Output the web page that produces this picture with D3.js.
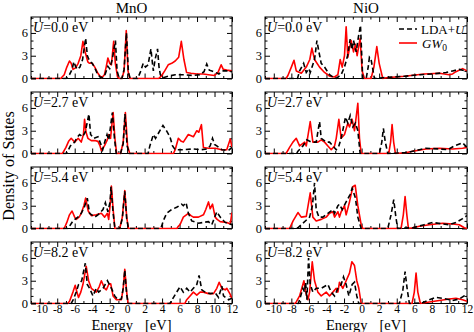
<!DOCTYPE html>
<html><head><meta charset="utf-8">
<script src="https://cdn.jsdelivr.net/npm/d3@7"></script>
<style>
html,body{margin:0;padding:0;background:#fff;}
svg{display:block;font-family:"Liberation Serif","Times New Roman",serif;}
</style></head>
<body><svg id="c" width="474" height="332"></svg>
<script>
const materials = ["MnO", "NiO"];
const uValues = ["0.0", "2.7", "5.4", "8.2"];
const energyTicks = [-10, -8, -6, -4, -2, 0, 2, 4, 6, 8, 10, 12];
const energyMinor = [-11, -9, -7, -5, -3, -1, 1, 3, 5, 7, 9, 11];
const dosTicks = [0, 3, 6];
const dosMinor = [1, 2, 4, 5, 7, 8];
const seriesNames = ["LDA+U", "GW0"];

// MnO
const mno_gw_00 = [[-11,0],[-7.6,0],[-7.2,0.5],[-6.9,1.5],[-6.6,2.3],[-6.4,2.0],[-6.2,1.2],[-5.9,1.4],[-5.6,2.0],[-5.3,3.0],[-5.06,4.9],[-4.8,3.5],[-4.5,2.2],[-4.3,2.0],[-4.0,2.0],[-3.7,1.5],[-3.4,0.8],[-3.1,0.3],[-2.9,0.1],[-2.6,0.5],[-2.4,1.5],[-2.2,2.7],[-2.0,2.0],[-1.8,1.8],[-1.54,4.9],[-1.35,2.0],[-1.1,0.2],[-0.9,0],[-0.6,0],[-0.35,1.0],[-0.1,6.3],[0.1,1.0],[0.3,0],[3.6,0],[3.9,0.3],[4.3,1.0],[4.7,1.8],[5.1,2.0],[5.5,2.3],[5.9,2.8],[6.2,4.9],[6.5,2.5],[6.8,0.8],[7.3,0.7],[8.0,0.6],[8.7,0.6],[9.3,0.5],[10.0,0.4],[10.4,0.8],[10.76,1.8],[11.0,1.2],[11.4,1.1],[12,1.0]];
const mno_lda_00 = [[-11,0],[-7.0,0],[-6.6,0.5],[-6.3,1.2],[-6.1,2.2],[-5.9,1.6],[-5.7,1.2],[-5.4,1.5],[-5.1,2.5],[-4.75,5.3],[-4.55,3.0],[-4.3,2.3],[-4.0,2.0],[-3.7,1.4],[-3.4,0.6],[-3.1,0.2],[-2.8,0.1],[-2.5,0.6],[-2.2,1.6],[-2.0,1.3],[-1.7,2.5],[-1.34,5.0],[-1.15,1.0],[-0.9,0],[-0.6,0],[-0.35,1.2],[-0.08,6.0],[0.15,0.8],[0.35,0],[1.2,0],[1.5,0.8],[1.84,2.0],[2.1,1.5],[2.4,1.8],[2.72,3.9],[2.9,2.0],[3.0,1.0],[3.2,2.5],[3.48,3.9],[3.65,1.5],[3.8,0.5],[4.1,0.1],[4.7,0.3],[5.5,0.5],[6.5,0.5],[7.5,0.4],[8.3,0.5],[8.8,0.9],[9.11,1.9],[9.4,1.1],[9.7,1.0],[10.1,0.8],[10.5,0.6],[10.9,1.0],[11.5,1.0],[12,0.9]];
const mno_gw_27 = [[-11,0],[-7.4,0],[-7.0,0.8],[-6.7,1.6],[-6.4,2.0],[-6.0,1.5],[-5.6,2.0],[-5.25,1.5],[-5.0,2.5],[-4.87,4.5],[-4.7,2.8],[-4.49,2.0],[-4.1,1.7],[-3.7,1.7],[-3.34,1.6],[-3.1,1.0],[-2.95,0.4],[-2.6,1.0],[-2.27,1.8],[-2.1,2.5],[-1.9,2.0],[-1.6,5.4],[-1.4,2.0],[-1.2,0],[-0.75,0],[-0.45,1.5],[-0.2,5.4],[0.05,1.0],[0.3,0],[5.3,0],[5.5,0.5],[5.86,2.0],[6.2,1.6],[6.43,1.5],[7.0,2.5],[7.58,2.2],[7.97,3.0],[8.2,2.8],[8.5,3.8],[8.73,0.8],[9.3,0.7],[10.1,0.7],[10.8,0.5],[11.4,0.5],[11.8,1.9],[12,0.8]];
const mno_lda_27 = [[-11,0],[-7.0,0],[-6.8,0.3],[-6.5,1.0],[-6.0,1.5],[-5.8,2.0],[-5.44,2.5],[-5.1,2.2],[-4.8,2.8],[-4.37,5.2],[-4.18,2.5],[-3.8,2.0],[-3.34,2.2],[-3.0,1.2],[-2.8,0.5],[-2.57,1.5],[-2.3,2.5],[-2.1,1.8],[-1.69,5.4],[-1.45,2.0],[-1.25,0],[-0.75,0],[-0.45,1.3],[-0.25,5.2],[0.0,1.0],[0.25,0],[2.4,0],[2.6,1.0],[3.0,2.5],[3.25,2.0],[3.75,3.0],[4.1,3.7],[4.5,3.0],[4.9,2.2],[5.2,1.0],[5.5,0.5],[6.5,0.5],[7.5,0.6],[8.5,0.5],[9.2,0.6],[9.5,1.0],[9.77,2.0],[10.0,1.2],[10.26,1.0],[10.84,0.5],[11.6,0.4],[12,0.8]];
const mno_gw_54 = [[-11,0],[-7.2,0],[-6.9,0.8],[-6.6,1.8],[-6.3,2.3],[-6.0,1.5],[-5.83,1.2],[-5.5,1.5],[-5.25,2.0],[-4.95,3.0],[-4.75,4.0],[-4.45,2.3],[-4.1,1.7],[-3.53,1.8],[-2.95,2.0],[-2.57,1.5],[-2.26,2.0],[-2.11,1.2],[-1.95,3.0],[-1.8,5.6],[-1.6,2.5],[-1.4,0],[-0.85,0],[-0.55,1.5],[-0.27,5.0],[-0.05,1.5],[0.15,0],[5.7,0],[5.86,0.3],[6.05,0.5],[6.43,1.5],[7.01,2.0],[7.3,1.7],[7.58,1.5],[8.16,1.5],[8.73,1.8],[9.0,2.5],[9.31,3.5],[9.5,2.6],[9.77,3.2],[10.07,1.5],[10.3,1.2],[10.65,0.9],[11.41,0.8],[11.8,0.6],[12,2.1]];
const mno_lda_54 = [[-11,0],[-6.8,0],[-6.59,0.3],[-6.2,1.0],[-5.64,1.5],[-5.25,2.0],[-4.9,2.8],[-4.56,4.0],[-4.3,2.0],[-3.72,1.5],[-3.34,1.8],[-2.76,2.5],[-2.49,3.4],[-2.2,2.2],[-1.95,3.5],[-1.85,5.5],[-1.6,2.0],[-1.4,0],[-0.85,0],[-0.55,1.3],[-0.27,4.9],[-0.05,1.3],[0.15,0],[3.8,0],[3.95,0.3],[4.13,1.0],[4.52,2.0],[5.09,2.5],[5.67,2.8],[6.24,3.2],[6.43,3.0],[6.74,3.4],[7.01,2.0],[7.39,1.0],[8.16,0.7],[9.31,0.9],[9.69,0.5],[10.26,2.2],[10.65,1.5],[11.22,0.8],[12,0.5]];
const mno_gw_82 = [[-11,0],[-6.8,0],[-6.59,0.3],[-6.2,1.5],[-5.94,2.4],[-5.75,1.5],[-5.56,0.8],[-5.3,1.5],[-5.06,2.5],[-4.68,4.9],[-4.41,3.0],[-4.1,2.0],[-3.53,1.5],[-3.2,2.2],[-2.95,3.0],[-2.57,2.0],[-2.38,1.8],[-2.11,2.5],[-1.88,2.6],[-1.61,1.0],[-1.23,0.5],[-0.66,0.5],[-0.45,2.0],[-0.27,4.5],[-0.05,1.5],[0.11,0],[6.6,0],[6.82,0.5],[7.2,1.0],[7.58,1.5],[7.97,1.1],[8.35,1.5],[8.73,1.5],[9.31,1.3],[9.88,1.3],[10.26,2.0],[10.53,2.8],[10.84,2.0],[11.22,1.8],[11.41,2.0],[11.8,1.2],[12,0.6]];
const mno_lda_82 = [[-11,0],[-6.4,0],[-6.21,0.4],[-5.83,1.5],[-5.56,2.5],[-5.2,3.0],[-4.79,5.3],[-4.56,2.5],[-4.3,2.0],[-3.91,1.0],[-3.53,2.0],[-3.26,1.5],[-2.76,2.0],[-2.26,3.0],[-1.8,2.0],[-1.42,1.0],[-1.04,0.5],[-0.66,0.6],[-0.45,2.0],[-0.27,4.4],[-0.05,1.2],[0.11,0],[4.9,0],[5.09,0.4],[5.67,1.5],[6.05,2.2],[6.43,1.5],[6.82,2.0],[7.2,1.5],[7.58,2.0],[7.97,2.5],[8.23,3.7],[8.54,1.8],[8.92,1.5],[9.5,1.3],[10.07,1.4],[10.46,0.8],[10.84,2.3],[11.03,1.0],[11.61,0.5],[12,0.7]];

// NiO
const nio_gw_00 = [[-11,0],[-8.6,0],[-8.39,0.4],[-8.0,1.5],[-7.7,2.4],[-7.44,1.0],[-6.87,0.7],[-6.3,1.5],[-5.9,2.5],[-5.66,4.0],[-5.36,2.5],[-4.79,1.5],[-4.22,0.8],[-3.65,0.3],[-3.08,0.2],[-2.7,0.5],[-2.44,2.5],[-2.21,1.5],[-1.95,3.0],[-1.76,6.8],[-1.57,2.8],[-1.38,4.0],[-1.19,5.0],[-0.92,3.5],[-0.7,4.5],[-0.51,3.0],[-0.17,5.3],[0.06,1.0],[0.32,0],[1.08,0],[1.4,1.5],[1.73,4.2],[2.0,2.0],[2.41,0],[2.79,0.1],[4.9,0.3],[7.1,0.6],[8.85,0.7],[9.98,0.5],[10.36,0.6],[10.74,0.9],[11.5,1.3],[12,1.0]];
const nio_lda_00 = [[-11,0],[-7.3,0],[-7.06,1.0],[-6.6,2.0],[-6.3,0.8],[-6.0,1.3],[-5.85,0.8],[-5.36,2.5],[-5.09,5.0],[-4.86,3.5],[-4.6,2.0],[-4.22,1.5],[-3.65,0.5],[-3.27,0.2],[-2.89,0],[-2.33,0.5],[-1.95,1.5],[-1.6,3.0],[-1.3,5.2],[-1.11,3.8],[-0.92,5.0],[-0.62,3.5],[-0.36,5.5],[-0.13,7.0],[-0.02,4.0],[0.13,0],[0.52,0],[0.75,1.5],[0.89,2.8],[1.08,2.5],[1.46,0],[2.41,0.1],[4.9,0.3],[6.6,0.5],[8.1,0.6],[9.61,0.8],[10.36,1.0],[11.12,1.2],[11.88,1.0],[12,1.0]];
const nio_gw_27 = [[-11,0],[-8.6,0],[-8.2,0.8],[-7.82,1.5],[-7.44,2.0],[-7.06,1.0],[-6.49,1.5],[-6.3,1.0],[-5.85,4.2],[-5.55,1.5],[-4.98,1.5],[-4.6,1.8],[-4.22,1.5],[-3.84,1.0],[-3.46,0.5],[-3.08,1.0],[-2.89,2.0],[-2.59,4.5],[-2.33,2.0],[-1.95,2.5],[-1.57,4.0],[-1.38,3.5],[-1.08,4.5],[-0.81,3.0],[-0.43,6.6],[-0.24,2.0],[-0.05,0],[3.09,0],[3.3,1.5],[3.47,3.8],[3.65,1.5],[3.85,0],[5.0,0.1],[5.82,0.3],[7.33,0.6],[8.85,0.7],[10.36,0.6],[11.5,0.7],[12,0.8]];
const nio_lda_27 = [[-11,0],[-7.4,0],[-7.25,0.3],[-6.68,1.0],[-6.23,1.8],[-5.73,1.5],[-5.17,1.5],[-4.79,4.2],[-4.6,2.0],[-4.03,1.5],[-3.65,1.5],[-3.27,1.0],[-2.89,0.5],[-2.59,1.0],[-2.33,2.0],[-1.83,4.8],[-1.57,4.0],[-1.3,5.0],[-1.0,3.5],[-0.7,4.0],[-0.43,3.0],[-0.17,0],[2.03,0],[2.3,1.5],[2.48,3.3],[2.7,1.5],[2.98,0],[5.06,0.1],[6.58,0.5],[7.33,0.7],[8.85,0.6],[9.8,0.5],[10.55,1.0],[11.5,1.4],[12,0.8]];
const nio_gw_54 = [[-11,0],[-8.2,0],[-7.8,1.0],[-7.25,2.1],[-6.87,1.5],[-6.3,1.6],[-5.85,4.7],[-5.55,1.5],[-5.17,1.0],[-4.6,1.2],[-4.03,1.5],[-3.65,2.0],[-3.27,2.2],[-3.08,1.5],[-2.7,2.2],[-2.52,1.5],[-2.33,2.2],[-1.95,3.0],[-1.76,1.8],[-1.38,3.5],[-1.0,5.5],[-0.73,5.7],[-0.43,3.0],[-0.05,0.5],[0.13,0],[4.49,0],[4.75,1.8],[4.95,4.2],[5.15,1.8],[5.33,0],[5.8,0.1],[6.58,0.3],[7.71,0.5],[9.23,0.7],[10.36,0.6],[11.12,0.5],[11.69,0.1],[12,0]];
const nio_lda_54 = [[-11,0],[-7.4,0],[-7.25,0.1],[-6.87,0.5],[-5.92,1.5],[-5.6,3.0],[-5.36,6.0],[-5.17,2.5],[-4.86,1.5],[-4.41,1.5],[-3.84,2.0],[-3.27,2.5],[-3.08,2.0],[-2.7,3.0],[-2.52,3.2],[-2.21,2.5],[-1.76,3.5],[-1.3,4.5],[-1.08,5.3],[-0.7,4.0],[-0.43,1.5],[-0.05,0],[2.98,0],[3.35,1.8],[3.66,3.8],[3.9,1.5],[4.11,0],[5.82,0.1],[7.14,0.5],[8.09,0.8],[9.23,0.6],[9.98,0.5],[10.74,0.8],[11.5,1.3],[12,1.7]];
const nio_gw_82 = [[-11,0],[-7.6,0],[-7.44,0.2],[-7.06,1.0],[-6.57,3.0],[-6.38,1.5],[-6.11,0.5],[-5.92,1.5],[-5.62,5.5],[-5.36,3.0],[-4.98,1.5],[-4.6,1.0],[-4.03,1.5],[-3.65,1.0],[-3.27,1.5],[-2.89,2.0],[-2.7,1.5],[-2.52,2.8],[-2.14,2.0],[-1.76,3.0],[-1.38,4.0],[-1.11,5.5],[-0.81,5.0],[-0.55,3.0],[-0.32,2.0],[-0.05,0],[5.74,0],[6.0,1.5],[6.2,4.0],[6.4,1.5],[6.69,0],[7.71,0.2],[8.85,0.4],[9.98,0.6],[10.74,0.7],[11.5,0.5],[12,0.3]];
const nio_lda_82 = [[-11,0],[-7.2,0],[-7.06,0.5],[-6.68,2.0],[-6.49,1.5],[-6.38,2.8],[-6.23,0.5],[-6.04,6.0],[-5.85,2.5],[-5.55,1.5],[-5.17,2.0],[-4.6,2.0],[-3.84,2.5],[-3.46,1.5],[-3.08,1.0],[-2.7,2.0],[-2.33,2.5],[-2.06,3.5],[-1.76,2.5],[-1.45,1.0],[-1.08,2.5],[-0.81,2.8],[-0.55,1.0],[-0.32,0],[4.3,0],[4.7,1.8],[4.95,4.2],[5.2,1.8],[5.44,0],[6.95,0.1],[7.71,0.5],[8.47,0.8],[9.61,0.6],[10.36,0.4],[11.12,0.6],[11.69,1.0],[12,1.0]];

const table = [
  [[mno_lda_00, mno_gw_00], [mno_lda_27, mno_gw_27], [mno_lda_54, mno_gw_54], [mno_lda_82, mno_gw_82]],
  [[nio_lda_00, nio_gw_00], [nio_lda_27, nio_gw_27], [nio_lda_54, nio_gw_54], [nio_lda_82, nio_gw_82]]
];

const svg = d3.select("#c");
const RED = "#ff0000";
const colX = [[31, 232], [265, 467]];
const rowTop = [17, 92, 167, 242];
const panelH = 61.5;
const fmt = d => String(d);

materials.forEach((mat, c) => {
  const x = d3.scaleLinear([-11, 12], colX[c]);
  svg.append("text").attr("x", (colX[c][0] + colX[c][1]) / 2).attr("y", 13)
    .attr("text-anchor", "middle").attr("font-size", 15).text(mat);
  uValues.forEach((u, r) => {
    const y = d3.scaleLinear([0, 8.1], [rowTop[r] + panelH, rowTop[r]]);
    const g = svg.append("g");
    const clipId = `clip-${c}-${r}`;
    svg.append("clipPath").attr("id", clipId).append("rect")
      .attr("x", colX[c][0]).attr("y", rowTop[r] - 1)
      .attr("width", colX[c][1] - colX[c][0]).attr("height", panelH + 2);
    const bottom = r === uValues.length - 1;
    const addAxis = (axis, tf) => {
      const a = g.append("g").attr("transform", tf).call(axis);
      a.select(".domain").remove();
      a.selectAll("line").attr("stroke", "#000").attr("stroke-width", 1);
      a.selectAll("text").attr("font-family", "Liberation Serif").attr("font-size", 11.5).attr("fill", "#000");
      return a;
    };
    const yB = rowTop[r] + panelH, yT = rowTop[r];
    addAxis(d3.axisBottom(x).tickValues(energyTicks).tickSize(-5).tickPadding(1.5).tickFormat(bottom ? fmt : () => ""), `translate(0,${yB})`);
    addAxis(d3.axisBottom(x).tickValues(energyMinor).tickSize(-2.5).tickFormat(() => ""), `translate(0,${yB})`);
    addAxis(d3.axisTop(x).tickValues(energyTicks).tickSize(-5).tickFormat(() => ""), `translate(0,${yT})`);
    addAxis(d3.axisTop(x).tickValues(energyMinor).tickSize(-2.5).tickFormat(() => ""), `translate(0,${yT})`);
    addAxis(d3.axisLeft(y).tickValues(dosTicks).tickSize(-5).tickPadding(3).tickFormat(fmt), `translate(${colX[c][0]},0)`)
      .selectAll("text").attr("font-size", 12.5);
    addAxis(d3.axisLeft(y).tickValues(dosMinor).tickSize(-2.5).tickFormat(() => ""), `translate(${colX[c][0]},0)`);
    addAxis(d3.axisRight(y).tickValues(dosTicks).tickSize(-5).tickFormat(() => ""), `translate(${colX[c][1]},0)`);
    addAxis(d3.axisRight(y).tickValues(dosMinor).tickSize(-2.5).tickFormat(() => ""), `translate(${colX[c][1]},0)`);
    g.append("rect").attr("x", colX[c][0]).attr("y", yT)
      .attr("width", colX[c][1] - colX[c][0]).attr("height", panelH)
      .attr("fill", "none").attr("stroke", "#000").attr("stroke-width", 1);

    const line = d3.line().x(d => x(d[0])).y(d => y(d[1]));
    const [lda, gw] = table[c][r];
    const lg = g.append("g").attr("clip-path", `url(#${clipId})`);
    lg.append("path").datum(gw).attr("d", line).attr("fill", "none")
      .attr("stroke", RED).attr("stroke-width", 1.6).attr("stroke-linejoin", "round");
    lg.append("path").datum(lda).attr("d", line).attr("fill", "none")
      .attr("stroke", "#000").attr("stroke-width", 1.6).attr("stroke-dasharray", "5,3");

    const lab = g.append("text").attr("x", colX[c][0] + 2).attr("y", yT + 15)
      .attr("font-size", 14);
    lab.append("tspan").attr("font-style", "italic").text("U");
    lab.append("tspan").text("=" + u + " eV");
  });
  const eLab = svg.append("text").attr("x", (colX[c][0] + colX[c][1]) / 2).attr("y", 329.5)
    .attr("text-anchor", "middle").attr("font-size", 14.5);
  eLab.append("tspan").text("Energy");
  eLab.append("tspan").attr("dx", 12).text("[eV]");
});

svg.append("text").attr("transform", "translate(14,166) rotate(-90)")
  .attr("text-anchor", "middle").attr("font-size", 16).text("Density of States");

// legend
const leg = svg.append("g");
const legY = [29, 43];
leg.append("line").attr("x1", 399).attr("x2", 417).attr("y1", legY[0]).attr("y2", legY[0])
  .attr("stroke", "#000").attr("stroke-width", 1.6).attr("stroke-dasharray", "5,3");
leg.append("line").attr("x1", 399).attr("x2", 417).attr("y1", legY[1]).attr("y2", legY[1])
  .attr("stroke", RED).attr("stroke-width", 1.6);
const t1 = leg.append("text").attr("x", 421).attr("y", legY[0] + 4.5).attr("font-size", 13);
t1.append("tspan").text("LDA+");
t1.append("tspan").attr("font-style", "italic").text("U");
const t2 = leg.append("text").attr("x", 422).attr("y", legY[1] + 4.5).attr("font-size", 13);
t2.append("tspan").attr("font-style", "italic").text("GW");
t2.append("tspan").attr("font-size", 9.5).attr("dy", 3).text("0");
</script></body></html>
